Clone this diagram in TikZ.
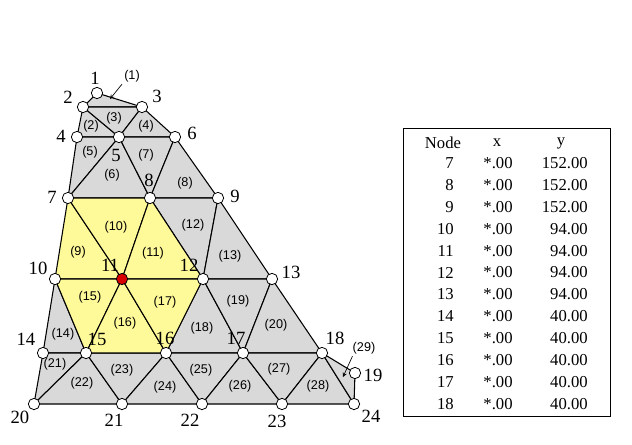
\documentclass[tikz,border=0pt]{standalone}
\usepackage{fontspec}
\setmainfont{Liberation Serif}
\newfontfamily\lsans{Liberation Sans}
\begin{document}
\begin{tikzpicture}[x=0.75pt,y=-0.75pt,
  nd/.style={circle,draw,fill=white,inner sep=0pt,minimum size=8.5pt,line width=0.6pt},
  nl/.style={font=\fontsize{14}{14}\selectfont,inner sep=0pt},
  el/.style={font=\lsans\fontsize{9.5}{9.5}\selectfont,inner sep=0pt},
  tr/.style={fill=gray!30,draw,line width=0.8pt,line join=round},
  ty/.style={fill=yellow!40,draw,line width=0.8pt,line join=round},
  tt/.style={font=\fontsize{12.5}{12.5}\selectfont,inner sep=0pt}]
\useasboundingbox (0,0) rectangle (632,444);
\foreach \n/\x/\y in {1/97/93,2/83/107,3/142/107,4/77/137,5/119/137,6/175/137,7/68/198,8/150/198,9/218/198,10/55/279,11/122/279,12/203/279,13/272/279,14/43/353,15/86/353,16/166/353,17/243/353,18/322/353,19/355/373,20/34/404,21/122/404,22/202/404,23/282/404,24/354/404}
  \coordinate (p\n) at (\x,\y);
\foreach \a/\b/\c in {1/2/3,2/4/5,2/5/3,3/5/6,4/7/5,7/8/5,5/8/6,6/8/9,8/12/9,9/12/13,10/14/15,12/16/17,12/17/13,13/17/18,14/20/15,15/20/21,15/21/16,16/21/22,16/22/17,17/22/23,17/23/18,18/23/24,18/24/19}
  \filldraw[tr] (p\a)--(p\b)--(p\c)--cycle;
\foreach \a/\b/\c in {7/10/11,7/11/8,8/11/12,10/15/11,11/15/16,11/16/12}
  \filldraw[ty] (p\a)--(p\b)--(p\c)--cycle;
\foreach \n in {1,...,24}{\ifnum\n=11\else\node[nd] (n\n) at (p\n) {};\fi}
\node[circle,draw,fill=red!85!black,inner sep=0pt,minimum size=8.5pt,line width=0.6pt] (n11) at (p11) {};
% node labels
\foreach \n/\x/\y in {1/95/78,2/68/97,3/157/96,4/61/136,5/116/155,6/192/133,7/52/197,8/149/180,9/235/196,10/38/268,11/110/265,12/189/265,13/291/272,14/26/339,15/97/339,16/165/338,17/236/338,18/335/338,19/373/375,20/20/417,21/114/420,22/190/420,23/277/421,24/371/416}
  \node[nl] (l\n) at (\x,\y) {\n};
% element labels
\foreach \e/\x/\y in {2/91/126,3/114/118,4/146/126,5/90/152,6/112/175,7/146/155,8/185/183,9/78/252,10/116/227,11/153/253,12/193/225,13/230/256,14/63/334,15/90/297,16/125/323,17/165/302,18/202/328,19/238/301,20/276/325,21/55/364,22/82/383,23/122/370,24/165/387,25/201/370,26/240/386,27/279/369,28/318/386}
  \node[el] (e\e) at (\x,\y) {(\e)};
\node[el] (e1) at (132,76) {(1)};
\node[el] (e29) at (364,348) {(29)};
\coordinate (a1) at (110,99);
\coordinate (a29) at (343,377);
\draw[->,>=stealth,line width=0.5pt] (e1.south west)++(-2,2) -- (a1);
\draw[->,>=stealth,line width=0.5pt] (e29.south west)++(0,2) -- (a29);
% table
\node[draw,line width=0.6pt,minimum width=207*0.75pt,minimum height=288*0.75pt,inner sep=0pt] (tab) at (506.5,272) {};
\node[tt] (h1) at (443,143) {Node};
\node[tt] (h2) at (497,143) {x};
\node[tt] (h3) at (561,143) {y};
\foreach \k/\n/\v in {0/7/152.00,1/8/152.00,2/9/152.00,3/10/94.00,4/11/94.00,5/12/94.00,6/13/94.00,7/14/40.00,8/15/40.00,9/16/40.00,10/17/40.00,11/18/40.00}{
  \node[tt,anchor=east] (r\k a) at (454,163+21.9*\k) {\n};
  \node[tt] (r\k b) at (498,163+21.9*\k) {*.00};
  \node[tt,anchor=east] (r\k c) at (588,163+21.9*\k) {\v};
}
\end{tikzpicture}
\end{document}
